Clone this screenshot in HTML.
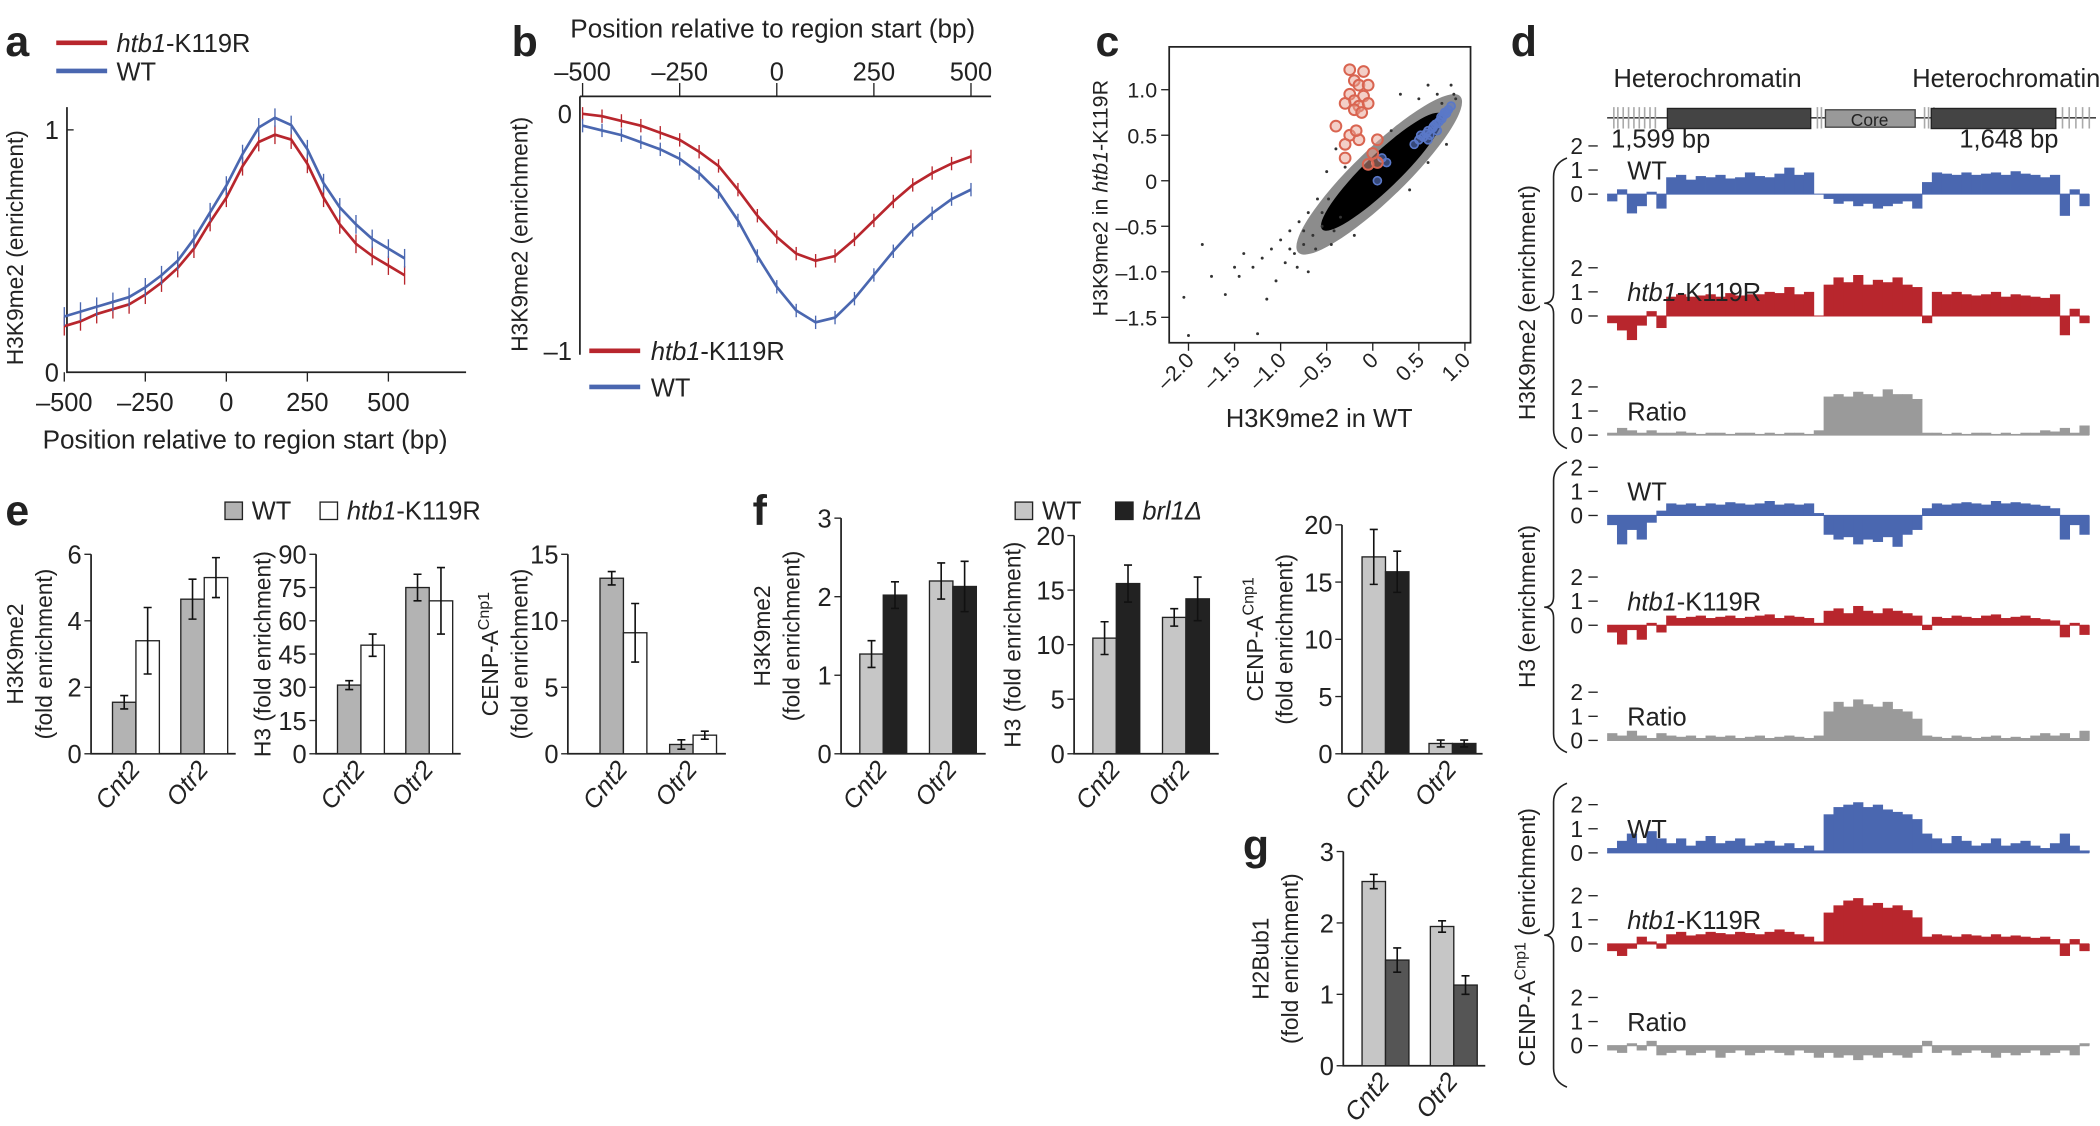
<!DOCTYPE html>
<html><head><meta charset="utf-8"><style>
html,body{margin:0;padding:0;background:#fff}
svg{display:block}
text{font-family:"Liberation Sans Narrow","Liberation Sans",sans-serif;fill:#222}
</style></head><body>
<svg id="fig" xmlns="http://www.w3.org/2000/svg" width="2100" height="1126" viewBox="0 0 1568 841" preserveAspectRatio="none"></svg>
<script>
// ---- panel a data ----
const aPos=[-500,-450,-400,-350,-300,-250,-200,-150,-100,-50,0,50,100,150,200,250,300,350,400,450,500,550];
const aWT=[0.23,0.25,0.27,0.29,0.31,0.35,0.40,0.46,0.55,0.66,0.77,0.90,1.01,1.05,1.02,0.92,0.78,0.68,0.61,0.55,0.51,0.47];
const aMut=[0.19,0.21,0.24,0.26,0.28,0.32,0.37,0.43,0.51,0.62,0.72,0.85,0.95,0.98,0.96,0.86,0.72,0.61,0.53,0.48,0.44,0.40];
const aXTicks=[-500,-250,0,250,500];
// ---- panel b data ----
const bPos=[-500,-450,-400,-350,-300,-250,-200,-150,-100,-50,0,50,100,150,200,250,300,350,400,450,500];
const bMut=[0.0,-0.01,-0.03,-0.05,-0.08,-0.11,-0.16,-0.22,-0.32,-0.43,-0.52,-0.59,-0.62,-0.60,-0.53,-0.45,-0.37,-0.30,-0.25,-0.21,-0.18];
const bWT=[-0.05,-0.07,-0.09,-0.12,-0.15,-0.19,-0.25,-0.33,-0.45,-0.60,-0.73,-0.83,-0.88,-0.86,-0.78,-0.68,-0.58,-0.49,-0.42,-0.36,-0.32];
const bXTicks=[-500,-250,0,250,500];
// ---- panel c data ----
const cXTicks=[-2.0,-1.5,-1.0,-0.5,0,0.5,1.0];
const cYTicks=[1.0,0.5,0,-0.5,-1.0,-1.5];
const cSparseWT=[-2.05,-2.0,-1.85,-1.75,-1.6,-1.45,-1.3,-1.25,-1.2,-1.1,-1.05,-1.0,-0.95,-0.9,-0.85,-0.8,-0.75,-0.7,-0.65,-0.6,-0.55,-0.5,-0.45,-0.4,-0.35,-0.3,-0.2,0.3,0.5,0.6,0.7,0.85,0.9,0.8,0.6,0.4,-1.4,-1.5,-1.15,-0.7,-0.75,-0.55,-0.62,-0.48,-0.42,-0.9,-0.82,0.75,0.88,0.2];
const cSparseMut=[-1.28,-1.7,-0.7,-1.05,-1.25,-1.05,-0.95,-1.68,-0.85,-0.75,-1.1,-0.65,-0.9,-0.55,-0.8,-0.45,-0.7,-0.35,-0.6,-0.2,-0.5,0.1,-0.7,0.35,-0.4,0.15,-0.6,0.95,0.9,1.05,0.95,1.05,0.9,0.4,0.2,-0.1,-0.8,-0.95,-1.3,-1.0,-0.55,-0.35,-0.75,-0.2,-0.55,-0.75,-0.95,0.85,0.95,0.55];
const cRedWT=[-0.25,-0.1,-0.2,-0.15,-0.05,-0.25,-0.1,-0.2,-0.3,-0.15,-0.05,-0.2,-0.12,-0.4,-0.25,-0.15,-0.3,0.05,-0.3,0.0,0.05,-0.05,-0.18];
const cRedMut=[1.22,1.2,1.1,1.05,1.05,0.95,0.93,0.88,0.85,0.82,0.85,0.78,0.75,0.6,0.5,0.45,0.4,0.45,0.25,0.3,0.2,0.18,0.55];
const cBlueWT=[0.45,0.5,0.52,0.55,0.58,0.6,0.62,0.65,0.66,0.68,0.7,0.72,0.74,0.75,0.77,0.78,0.8,0.82,0.6,0.7,0.1,0.05,0.15,0.85];
const cBlueMut=[0.4,0.45,0.5,0.48,0.52,0.55,0.5,0.58,0.6,0.62,0.63,0.65,0.7,0.68,0.72,0.75,0.74,0.78,0.45,0.55,0.25,0.0,0.2,0.82];
// ---- panel d data (binned tracks) ----
const dK9WT=[-0.3,0.2,-0.8,-0.5,0.1,-0.6, 0.7,0.8,0.6,0.75,0.7,0.8,0.65,0.7,0.9,0.75,0.7,0.85,1.1,0.8,0.9, 0, -0.2,-0.4,-0.3,-0.5,-0.4,-0.6,-0.5,-0.4,-0.3,-0.6, 0.5, 0.9,0.85,0.8,0.9,0.8,0.85,0.9,0.8,0.95,0.85,0.8,0.7,0.8, -0.9,0.2,-0.5];
const dK9Mut=[-0.3,-0.6,-1.0,-0.4,0.2,-0.5, 0.8,0.9,0.8,0.85,0.9,0.8,0.95,0.85,0.9,0.9,1.0,0.95,1.2,0.9,1.0, 0, 1.3,1.6,1.4,1.7,1.3,1.5,1.4,1.6,1.3,1.2, -0.3, 1.0,0.9,1.0,0.9,0.85,0.9,1.0,0.8,0.9,0.85,0.8,0.75,0.9, -0.8,0.3,-0.3];
const dK9Ratio=[0.1,0.3,0.2,0.1,0.2,0.1, 0.1,0.15,0.1,0.05,0.1,0.1,0.05,0.1,0.1,0.05,0.1,0.05,0.1,0.1,0.05, 0.2, 1.6,1.7,1.6,1.8,1.7,1.6,1.9,1.7,1.7,1.5, 0.1, 0.1,0.05,0.1,0.05,0.1,0.1,0.05,0.1,0.05,0.1,0.1,0.2,0.15, 0.3,0.1,0.4];
const dH3WT=[-0.4,-1.2,-0.6,-1.0,-0.3,0.2, 0.5,0.45,0.5,0.4,0.5,0.45,0.55,0.5,0.45,0.5,0.6,0.45,0.5,0.45,0.5, 0.1, -0.8,-1.0,-0.9,-1.2,-1.0,-1.1,-0.9,-1.3,-0.8,-0.6, 0.3, 0.5,0.45,0.5,0.55,0.5,0.45,0.6,0.5,0.55,0.5,0.45,0.4,0.3, -1.0,-0.4,-0.8];
const dH3Mut=[-0.3,-0.8,-0.2,-0.6,0.1,-0.3, 0.4,0.3,0.35,0.4,0.3,0.35,0.4,0.3,0.35,0.4,0.45,0.3,0.4,0.35,0.3, 0.1, 0.6,0.7,0.5,0.8,0.6,0.5,0.7,0.6,0.5,0.4, -0.2, 0.35,0.3,0.4,0.35,0.3,0.4,0.45,0.3,0.35,0.4,0.3,0.25,0.2, -0.5,0.1,-0.4];
const dH3Ratio=[0.3,0.2,0.4,0.2,0.1,0.3, 0.2,0.15,0.2,0.1,0.2,0.15,0.2,0.1,0.15,0.2,0.1,0.15,0.2,0.15,0.1, 0.2, 1.2,1.6,1.4,1.7,1.5,1.4,1.6,1.3,1.2,0.9, 0.2, 0.15,0.1,0.2,0.15,0.1,0.15,0.2,0.1,0.15,0.1,0.2,0.3,0.2, 0.3,0.1,0.4];
const dCWT=[0.2,0.5,0.8,0.4,0.9,0.6, 0.4,0.6,0.3,0.5,0.7,0.4,0.5,0.6,0.3,0.4,0.5,0.3,0.4,0.2,0.3, 0.1, 1.6,1.9,2.0,2.1,1.9,2.0,1.8,1.7,1.6,1.4, 0.8, 0.6,0.4,0.7,0.5,0.3,0.4,0.6,0.3,0.4,0.5,0.3,0.2,0.4, 0.8,0.3,0.1];
const dCMut=[-0.3,-0.5,-0.2,0.3,0.1,-0.2, 0.4,0.5,0.35,0.4,0.5,0.45,0.4,0.5,0.45,0.4,0.5,0.6,0.5,0.4,0.3, 0.1, 1.3,1.6,1.8,1.9,1.6,1.7,1.5,1.6,1.4,1.1, 0.3, 0.4,0.35,0.3,0.4,0.35,0.3,0.4,0.3,0.35,0.3,0.25,0.3,0.2, -0.5,0.2,-0.3];
const dCRatio=[-0.2,-0.3,0.1,-0.2,0.2,-0.4, -0.3,-0.2,-0.4,-0.3,-0.2,-0.5,-0.3,-0.2,-0.4,-0.3,-0.2,-0.3,-0.4,-0.2,-0.3, -0.5, -0.3,-0.5,-0.4,-0.6,-0.4,-0.5,-0.3,-0.4,-0.5,-0.3, 0.2, -0.3,-0.2,-0.4,-0.3,-0.2,-0.3,-0.5,-0.3,-0.4,-0.3,-0.2,-0.4,-0.3, -0.2,-0.4,0.1];
// ---- bar panels data ----
const cats=["Cnt2","Otr2"];
const eK9Vals=[1.55,3.4,4.65,5.3], eK9Errs=[0.2,1.0,0.6,0.6], eK9Ticks=[0,2,4,6];
const eH3Vals=[31,49,75,69], eH3Errs=[2,5,6,15], eH3Ticks=[0,15,30,45,60,75,90];
const eCVals=[13.2,9.1,0.7,1.4], eCErrs=[0.5,2.2,0.35,0.3], eCTicks=[0,5,10,15];
const fK9Vals=[1.27,2.02,2.2,2.13], fK9Errs=[0.17,0.17,0.23,0.32], fK9Ticks=[0,1,2,3];
const fH3Vals=[10.6,15.6,12.5,14.2], fH3Errs=[1.5,1.7,0.8,2.0], fH3Ticks=[0,5,10,15,20];
const fCVals=[17.2,15.9,0.9,0.9], fCErrs=[2.4,1.8,0.3,0.3], fCTicks=[0,5,10,15,20];
const gVals=[2.58,1.48,1.95,1.13], gErrs=[0.1,0.17,0.08,0.13], gTicks=[0,1,2,3];

const NS="http://www.w3.org/2000/svg";
const svg=document.getElementById('fig');
function mk(tag,attrs,parent){const e=document.createElementNS(NS,tag);for(const k in attrs)e.setAttribute(k,attrs[k]);(parent||svg).appendChild(e);return e;}
function txt(x,y,s,size,extra){const t=mk('text',Object.assign({x:x,y:y,'font-size':size},extra||{}));t.textContent=s;return t;}
const RED="#b8262d",BLUE="#4a67b0",GRAY="#9a9a9a";

// panel letters
[["a",4,42],["b",382,42],["c",818,42],["d",1128,42],["e",4,392],["f",562,392],["g",928,642]].forEach(p=>{
 const t=txt(p[1],p[2],p[0],32,{'font-weight':'bold','font-family':'Liberation Sans, sans-serif'});
 
 
});

// ================= panel a =================
(function(){
 const xs=v=>169+v*0.2420, ys=v=>278-v*181;
 const ax=mk('path',{d:'M50,80 V278 H348',stroke:'#222','stroke-width':1.3,fill:'none'});
 
 
 [[0,'0'],[1,'1']].forEach(t=>{mk('line',{x1:50,x2:55,y1:ys(t[0]),y2:ys(t[0]),stroke:'#222'});
  const l=txt(44,ys(t[0])+7,t[1],19,{'text-anchor':'end'});
  
  });
 aXTicks.forEach(v=>{mk('line',{x1:xs(v),x2:xs(v),y1:278,y2:285,stroke:'#222'});
  const l=txt(xs(v),307,String(v).replace('-','\u2013'),19,{'text-anchor':'middle'});
  
  });
 const xl=txt(183,335,'Position relative to region start (bp)',19.5,{'text-anchor':'middle'});
 
 
 const yl=txt(0,0,'H3K9me2 (enrichment)',17,{'text-anchor':'middle',transform:'translate(17,185) rotate(-90)','font-family':'Liberation Sans, sans-serif'});
 
 
 [[aMut,RED,'a-line-htb1'],[aWT,BLUE,'a-line-wt']].forEach(s=>{
  const d=s[0].map((v,i)=>(i?'L':'M')+xs(aPos[i])+','+ys(v)).join(' ');
  const p=mk('path',{d:d,stroke:s[1],'stroke-width':2,fill:'none'});
  
  
  s[0].forEach((v,i)=>{const e=mk('line',{x1:xs(aPos[i]),x2:xs(aPos[i]),y1:ys(v)-7,y2:ys(v)+7,stroke:s[1],'stroke-width':1});
   
   });
 });
 [[32,RED,'htb1','-K119R','a-legend-htb1'],[53,BLUE,'WT','','a-legend-wt']].forEach(l=>{
  const g=mk('g',{});
  
  
  mk('line',{x1:42,x2:80,y1:l[0],y2:l[0],stroke:l[1],'stroke-width':3.5},g);
  const t=mk('text',{x:87,y:l[0]+7,'font-size':19},g);
  if(l[3]){const i=mk('tspan',{'font-style':'italic'},t);i.textContent=l[2];const r=mk('tspan',{},t);r.textContent=l[3];}else t.textContent=l[2];
 });
})();

// ================= panel b =================
(function(){
 const xs=v=>580+v*0.290, ys=v=>85-v*177;
 const ax=mk('path',{d:'M433,72 H740 M433,72 V265',stroke:'#222','stroke-width':1.3,fill:'none'});
 
 
 bXTicks.forEach(v=>{mk('line',{x1:xs(v),x2:xs(v),y1:62,y2:72,stroke:'#222'});
  const l=txt(xs(v),60,String(v).replace('-','\u2013'),19,{'text-anchor':'middle'});
  
  });
 [[0,'0'],[-1,'\u20131']].forEach(t=>{const l=txt(427,ys(t[0])+7,t[1],19,{'text-anchor':'end'});
  
  });
 const xl=txt(577,28,'Position relative to region start (bp)',19.5,{'text-anchor':'middle'});
 
 
 const yl=txt(0,0,'H3K9me2 (enrichment)',17,{'text-anchor':'middle',transform:'translate(394,175) rotate(-90)','font-family':'Liberation Sans, sans-serif'});
 
 
 [[bMut,RED,'b-line-htb1'],[bWT,BLUE,'b-line-wt']].forEach(s=>{
  const d=s[0].map((v,i)=>(i?'L':'M')+xs(bPos[i])+','+ys(v)).join(' ');
  const p=mk('path',{d:d,stroke:s[1],'stroke-width':2,fill:'none'});
  
  
  s[0].forEach((v,i)=>{const e=mk('line',{x1:xs(bPos[i]),x2:xs(bPos[i]),y1:ys(v)-5,y2:ys(v)+5,stroke:s[1]});
   
   });
 });
 [[262,RED,'htb1','-K119R','b-legend-htb1'],[289,BLUE,'WT','','b-legend-wt']].forEach(l=>{
  const g=mk('g',{});
  
  
  mk('line',{x1:440,x2:478,y1:l[0],y2:l[0],stroke:l[1],'stroke-width':3.5},g);
  const t=mk('text',{x:486,y:l[0]+7,'font-size':19},g);
  if(l[3]){const i=mk('tspan',{'font-style':'italic'},t);i.textContent=l[2];const r=mk('tspan',{},t);r.textContent=l[3];}else t.textContent=l[2];
 });
})();

// ================= panel c =================
(function(){
 const xs=v=>1025+v*68.8, ys=v=>135-v*68;
 const box=mk('rect',{x:873,y:35,width:225,height:221,fill:'none',stroke:'#222','stroke-width':1.3});
 
 
 cYTicks.forEach(v=>{mk('line',{x1:867,x2:873,y1:ys(v),y2:ys(v),stroke:'#222'});
  const l=txt(864,ys(v)+6,v===0?'0':v.toFixed(1).replace('-','\u2013'),16,{'text-anchor':'end'});
  
  });
 cXTicks.forEach(v=>{mk('line',{x1:xs(v),x2:xs(v),y1:256,y2:262,stroke:'#222'});
  const l=txt(0,0,v===0?'0':v.toFixed(1).replace('-','\u2013'),16,{'text-anchor':'end',transform:'translate('+(xs(v)+5)+',270) rotate(-45)'});
  
  });
 const xl=txt(985,319,'H3K9me2 in WT',19,{'text-anchor':'middle'});
 
 
 const yl=mk('text',{'font-size':16,'text-anchor':'middle',transform:'translate(827,148) rotate(-90)','font-family':'Liberation Sans, sans-serif'});
 
 
 const t1=mk('tspan',{},yl);t1.textContent='H3K9me2 in ';const t2=mk('tspan',{'font-style':'italic'},yl);t2.textContent='htb1';const t3=mk('tspan',{},yl);t3.textContent='-K119R';
 // dense cloud
 const cx=xs(0.07),cy=ys(0.07);
 const c1=mk('ellipse',{cx:cx,cy:cy,rx:84,ry:19,fill:'#000',opacity:0.45,transform:'rotate(-44 '+cx+' '+cy+')'});
 
 
 const c2=mk('ellipse',{cx:cx+2,cy:cy-2,rx:62,ry:13,fill:'#000',opacity:1,transform:'rotate(-44 '+(cx+2)+' '+(cy-2)+')'});
 
 
 cSparseWT.forEach((v,i)=>{const p=mk('circle',{cx:xs(v),cy:ys(cSparseMut[i]),r:1.1,fill:'#333'});
  
  });
 cBlueWT.forEach((v,i)=>{const p=mk('circle',{cx:xs(v),cy:ys(cBlueMut[i]),r:3,fill:'#5a78c8','fill-opacity':0.6,stroke:'#5a78c8','stroke-width':1.2});
  
  });
 cRedWT.forEach((v,i)=>{const p=mk('circle',{cx:xs(v),cy:ys(cRedMut[i]),r:4,fill:'#e8a090','fill-opacity':0.5,stroke:'#d96450','stroke-width':1.5});
  
  });
})();

// ================= panel d =================
(function(){
 const sch=mk('g',{});
 
 
 mk('line',{x1:1200,x2:1565,y1:88,y2:88,stroke:'#444','stroke-width':1.2},sch);
 [1205,1208,1212,1216,1220,1224,1228,1232,1236,1357,1360,1437,1440,1444,1540,1545,1550,1555,1560].forEach(x=>mk('line',{x1:x,x2:x,y1:80,y2:96,stroke:'#aaa','stroke-width':1.2},sch));
 mk('rect',{x:1245,y:81,width:107,height:15,fill:'#444',stroke:'#222'},sch);
 mk('rect',{x:1442,y:81,width:93,height:15,fill:'#444',stroke:'#222'},sch);
 mk('rect',{x:1363,y:82,width:67,height:13,fill:'#999',stroke:'#444'},sch);
 txt(1396,94,'Core',13,{'text-anchor':'middle'});
 [[1275,65,'Heterochromatin'],[1498,65,'Heterochromatin'],[1240,110,'1,599 bp'],[1500,110,'1,648 bp']].forEach(t=>{
  const l=txt(t[0],t[1],t[2],19,{'text-anchor':'middle'});
  
  });
 const tracks=[
  [dK9WT,BLUE,145,'WT','d-track-k9-wt'],[dK9Mut,RED,236,'htb1','d-track-k9-htb1'],[dK9Ratio,GRAY,325,'Ratio','d-track-k9-ratio'],
  [dH3WT,BLUE,385,'WT','d-track-h3-wt'],[dH3Mut,RED,467,'htb1','d-track-h3-htb1'],[dH3Ratio,GRAY,553,'Ratio','d-track-h3-ratio'],
  [dCWT,BLUE,637,'WT','d-track-cenp-wt'],[dCMut,RED,705,'htb1','d-track-cenp-htb1'],[dCRatio,GRAY,781,'Ratio','d-track-cenp-ratio']];
 const U=18,X0=1200,X1=1560;
 tracks.forEach(tr=>{
  const g=mk('g',{});
  
  
  const y0=tr[2];
  [0,1,2].forEach(k=>{mk('line',{x1:1186,x2:1193,y1:y0-k*U,y2:y0-k*U,stroke:'#222'},g);
   txt(1182,y0-k*U+6,String(k),17,{'text-anchor':'end'});});
  mk('line',{x1:X0,x2:X1,y1:y0,y2:y0,stroke:tr[1],'stroke-width':0.8},g);
  const w=(X1-X0)/tr[0].length;
  tr[0].forEach((v,i)=>{const b=mk('rect',{x:X0+i*w,y:v>=0?y0-v*U:y0,width:w+0.3,height:Math.abs(v)*U,fill:tr[1]},g);
   
   });
  const lt=mk('text',{x:1215,y:y0-U+7,'font-size':19},g);
  if(tr[3]==='htb1'){const i=mk('tspan',{'font-style':'italic'},lt);i.textContent='htb1';const r=mk('tspan',{},lt);r.textContent='-K119R';}else lt.textContent=tr[3];
 });
 [[118,335,'H3K9me2 (enrichment)',226],[345,562,'H3 (enrichment)',453],[585,812,'',700]].forEach((b,bi)=>{
  const m=(b[0]+b[1])/2;
  const br=mk('path',{d:`M1170,${b[0]} Q1160,${b[0]+4} 1160,${b[0]+14} V${m-8} Q1160,${m} 1153,${m} Q1160,${m} 1160,${m+8} V${b[1]-14} Q1160,${b[1]-4} 1170,${b[1]}`,stroke:'#222',fill:'none','stroke-width':1.2});
  
  
  const t=mk('text',{'font-size':17,'text-anchor':'middle',transform:`translate(1146,${b[3]}) rotate(-90)`,'font-family':'Liberation Sans, sans-serif'});
  
  
  if(b[2])t.textContent=b[2];else{const a=mk('tspan',{},t);a.textContent='CENP-A';const s=mk('tspan',{dy:-7,'font-size':12},t);s.textContent='Cnp1';const c=mk('tspan',{dy:7},t);c.textContent=' (enrichment)';}
 });
})();

// ================= bar panels =================
function barPanel(id,axX,y0,yTop,maxV,ticks,vals,errs,firstX,step,colors,yl1,yl2,ylx){
 const bw=17.5,ys=v=>y0-(v/maxV)*(y0-yTop);
 const ax=mk('path',{d:`M${axX},${yTop} V${y0} H${axX+step*2+(firstX-axX)-10}`,stroke:'#222','stroke-width':1.3,fill:'none'});
 
 
 ticks.forEach(t=>{mk('line',{x1:axX-5,x2:axX,y1:ys(t),y2:ys(t),stroke:'#222'});
  const l=txt(axX-7,ys(t)+7,String(t),19,{'text-anchor':'end'});
  
  });
 vals.forEach((v,i)=>{const gi=Math.floor(i/2),si=i%2,x=firstX+gi*step+si*bw;
  const b=mk('rect',{x:x,y:ys(v),width:bw,height:y0-ys(v),fill:colors[si],stroke:'#222','stroke-width':1});
  
  
  const cx=x+bw/2,e=errs[i];
  const eb=mk('path',{d:`M${cx},${ys(v+e)} V${ys(v-e)} M${cx-3},${ys(v+e)} H${cx+3} M${cx-3},${ys(v-e)} H${cx+3}`,stroke:'#111','stroke-width':1.2,fill:'none'});
  
  });
 cats.forEach((c,gi)=>{const cx=firstX+gi*step+bw+4;
  const l=txt(0,0,c,19,{'text-anchor':'end','font-style':'italic',transform:`translate(${cx},${y0+12}) rotate(-50)`});
  
  });
 const my=(y0+yTop)/2;
 const t=mk('text',{'font-size':17,'text-anchor':'middle',transform:`translate(${ylx},${my}) rotate(-90)`,'font-family':'Liberation Sans, sans-serif'});
 
 
 if(yl1==='CENP'){const a=mk('tspan',{},t);a.textContent='CENP-A';const s=mk('tspan',{dy:-7,'font-size':12},t);s.textContent='Cnp1';}else t.textContent=yl1;
 if(yl2){const t2=txt(0,0,yl2,17,{'text-anchor':'middle',transform:`translate(${ylx+22},${my}) rotate(-90)`,'font-family':'Liberation Sans, sans-serif'});
  
  }
}
const EC=['#b3b3b3','#fff'],FC=['#c6c6c6','#222'],GC=['#c6c6c6','#555'];
barPanel('e-h3k9me2',68,563,414,6,eK9Ticks,eK9Vals,eK9Errs,84,51,EC,'H3K9me2','(fold enrichment)',17);
barPanel('e-h3',236,563,414,90,eH3Ticks,eH3Vals,eH3Errs,252,51,EC,'H3 (fold enrichment)','',202);
barPanel('e-cenpa',424,563,414,15,eCTicks,eCVals,eCErrs,448,52,EC,'CENP','(fold enrichment)',372);
barPanel('f-h3k9me2',628,563,387,3,fK9Ticks,fK9Vals,fK9Errs,642,52,FC,'H3K9me2','(fold enrichment)',575);
barPanel('f-h3',802,563,400,20,fH3Ticks,fH3Vals,fH3Errs,816,52,FC,'H3 (fold enrichment)','',762);
barPanel('f-cenpa',1002,563,392,20,fCTicks,fCVals,fCErrs,1017,50,FC,'CENP','(fold enrichment)',943);
barPanel('g-h2bub1',1003,796,636,3,gTicks,gVals,gErrs,1017,51,GC,'H2Bub1','(fold enrichment)',947);

// legends e, f
function legend(name,x,y,fill,label,italic,suffix){
 const g=mk('g',{});
 
 
 mk('rect',{x:x,y:y-13,width:13,height:13,fill:fill,stroke:'#222'},g);
 const t=mk('text',{x:x+20,y:y,'font-size':19},g);
 const a=mk('tspan',italic?{'font-style':'italic'}:{},t);a.textContent=label;
 if(suffix){const b=mk('tspan',{},t);b.textContent=suffix;}
}
legend('e-legend-wt',168,388,'#b3b3b3','WT',false,'');
legend('e-legend-htb1',239,388,'#fff','htb1',true,'-K119R');
legend('f-legend-wt',758,388,'#c6c6c6','WT',false,'');
legend('f-legend-brl1',833,388,'#222','brl1\u0394',true,'');
</script>
</body></html>
